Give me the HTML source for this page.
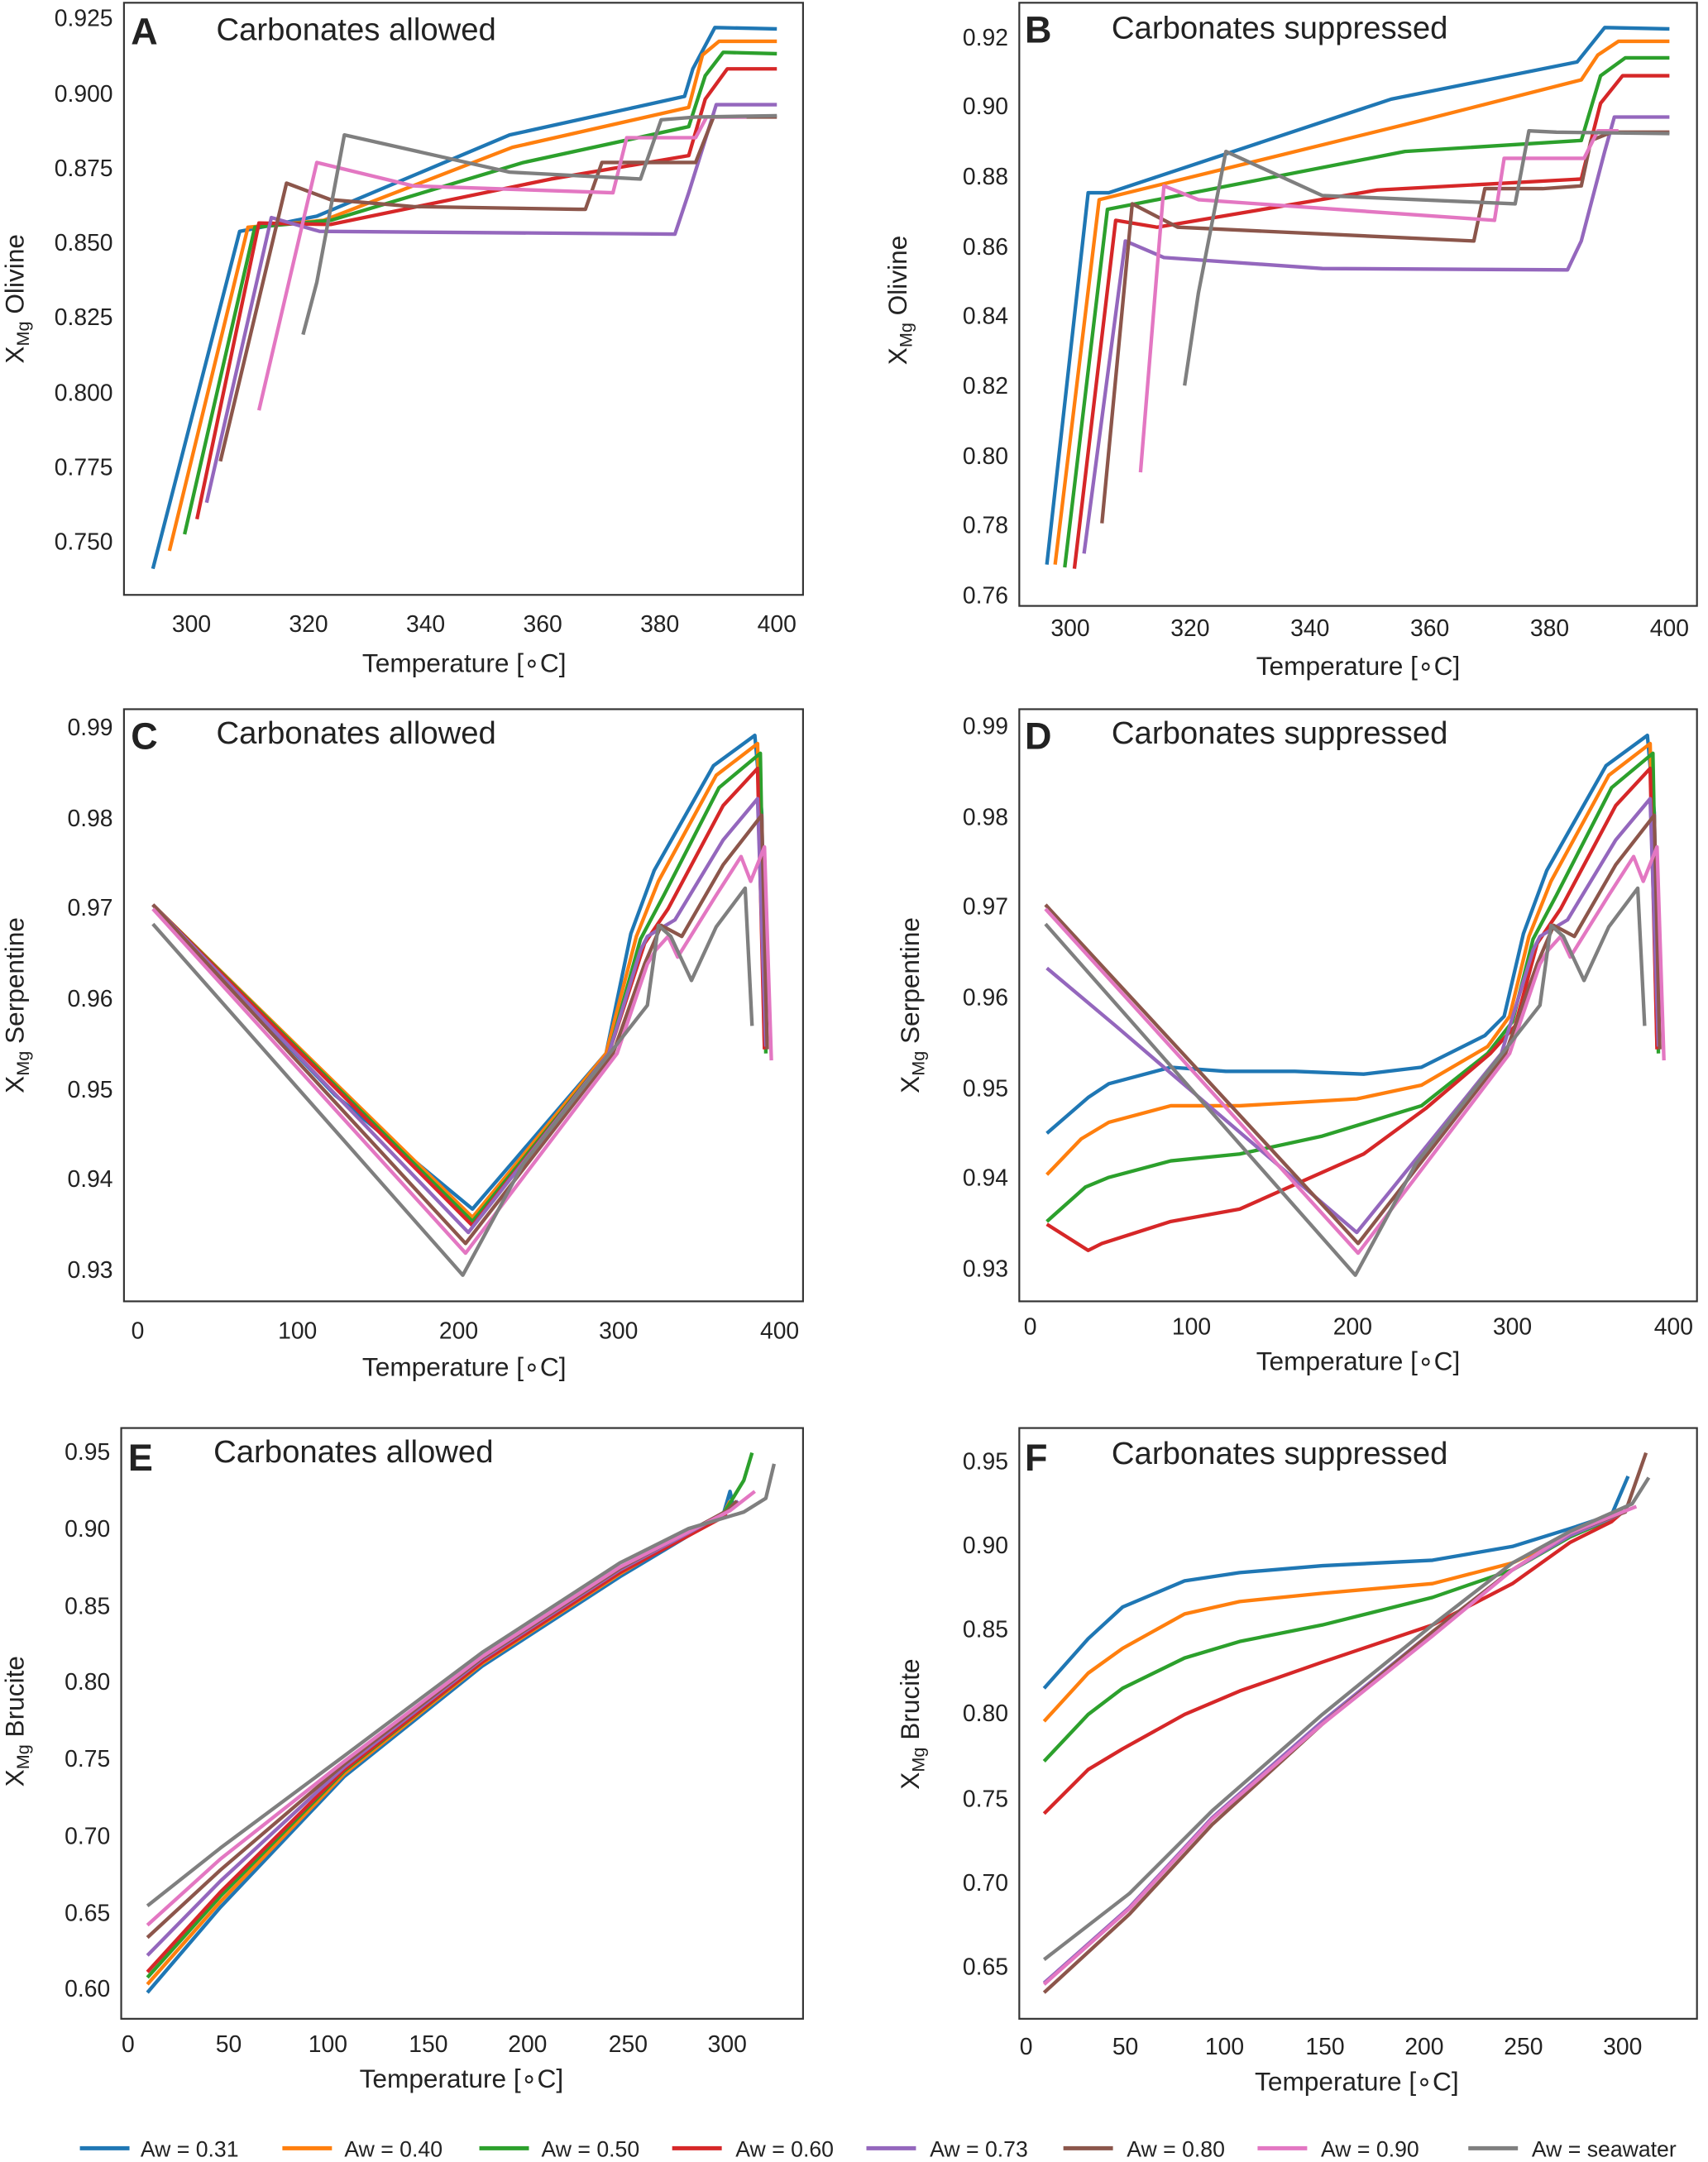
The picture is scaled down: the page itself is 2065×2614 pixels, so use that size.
<!DOCTYPE html>
<html><head><meta charset="utf-8"><style>
html,body{margin:0;padding:0;background:#fff;}
svg{display:block;}
text{font-family:"Liberation Sans",sans-serif;fill:#222;}
.t{font-size:17px;}
.ax{font-size:19px;}
.ti{font-size:23px;}
.lb{font-size:27px;font-weight:bold;}
polyline{fill:none;stroke-width:2.6;stroke-linejoin:round;}
.b{stroke:#1f77b4}.o{stroke:#ff7f0e}.g{stroke:#2ca02c}.r{stroke:#d62728}.p{stroke:#9467bd}.br{stroke:#8c564b}.pk{stroke:#e377c2}.gy{stroke:#7f7f7f}
.box{fill:none;stroke:#333;stroke-width:1.3}
.tk{stroke:#333;stroke-width:1.2}
</style></head><body>
<svg width="2065" height="2614" viewBox="0 0 1240 1570" preserveAspectRatio="none" xmlns="http://www.w3.org/2000/svg">
<rect width="1240" height="1570" fill="#fff"/>

<!-- Panel A -->
<rect class="box" x="90" y="2" width="493" height="430"/>
<g class="t" text-anchor="end">
<text x="82" y="19">0.925</text><text x="82" y="74">0.900</text><text x="82" y="128">0.875</text><text x="82" y="182">0.850</text><text x="82" y="236">0.825</text><text x="82" y="291">0.800</text><text x="82" y="345">0.775</text><text x="82" y="399">0.750</text>
</g>
<g class="t" text-anchor="middle">
<text x="139" y="459">300</text><text x="224" y="459">320</text><text x="309" y="459">340</text><text x="394" y="459">360</text><text x="479" y="459">380</text><text x="564" y="459">400</text>
</g>
<text class="ax" x="337" y="488" text-anchor="middle">Temperature [∘C]</text>
<text class="ax" transform="translate(17,217) rotate(-90)" text-anchor="middle">X<tspan font-size="13" dy="4">Mg</tspan><tspan dy="-4"> Olivine</tspan></text>
<text class="lb" x="95" y="32">A</text><text class="ti" x="157" y="29">Carbonates allowed</text>
<polyline class="b" points="111,413 174,168 195,164 230,157 370,98 497,70 503,50 519,20 564,21"/>
<polyline class="o" points="123,400 180,165 235,160 372,107 500,78 510,40 522,30 564,30"/>
<polyline class="g" points="134,388 185,165 240,160 380,118 500,92 512,55 525,38 564,39"/>
<polyline class="r" points="143,377 188,162 240,163 400,130 500,113 512,72 528,50 564,50"/>
<polyline class="p" points="150,365 197,158 232,168 490,170 500,140 520,76 564,76"/>
<polyline class="br" points="160,335 208,133 240,145 300,150 420,152 425,152 437,118 505,118 518,85 564,85"/>
<polyline class="pk" points="188,298 230,118 300,135 445,140 455,100 505,100 513,85 530,85 542,85"/>
<polyline class="gy" points="220,243 230,205 250,98 370,125 465,130 480,87 505,85 564,84"/>

<!-- Panel B -->
<rect class="box" x="740" y="2" width="492" height="438"/>
<g class="t" text-anchor="end" font-size="19">
<text x="732" y="33" class="t">0.92</text><text x="732" y="83" class="t">0.90</text><text x="732" y="134" class="t">0.88</text><text x="732" y="185" class="t">0.86</text><text x="732" y="235" class="t">0.84</text><text x="732" y="286" class="t">0.82</text><text x="732" y="337" class="t">0.80</text><text x="732" y="387" class="t">0.78</text><text x="732" y="438" class="t">0.76</text>
</g>
<g class="t" text-anchor="middle">
<text x="777" y="462">300</text><text x="864" y="462">320</text><text x="951" y="462">340</text><text x="1038" y="462">360</text><text x="1125" y="462">380</text><text x="1212" y="462">400</text>
</g>
<text class="ax" x="986" y="490" text-anchor="middle">Temperature [∘C]</text>
<text class="ax" transform="translate(658,218) rotate(-90)" text-anchor="middle">X<tspan font-size="13" dy="4">Mg</tspan><tspan dy="-4"> Olivine</tspan></text>
<text class="lb" x="744" y="31">B</text><text class="ti" x="807" y="28">Carbonates suppressed</text>
<polyline class="b" points="760,410 790,140 805,140 1010,72 1145,45 1165,20 1212,21"/>
<polyline class="o" points="766,410 798,145 1030,88 1148,58 1160,40 1175,30 1212,30"/>
<polyline class="g" points="773,412 804,152 1020,110 1148,102 1162,55 1180,42 1212,42"/>
<polyline class="r" points="780,413 810,160 840,165 1000,138 1148,130 1162,75 1178,55 1212,55"/>
<polyline class="p" points="787,402 817,175 845,187 960,195 1138,196 1148,175 1165,110 1172,85 1212,85"/>
<polyline class="br" points="800,380 822,148 855,165 1070,175 1078,137 1120,137 1148,135 1155,102 1170,96 1212,96"/>
<polyline class="pk" points="828,343 845,135 870,145 1085,160 1092,115 1150,115 1160,95 1175,95"/>
<polyline class="gy" points="860,280 870,213 890,110 960,142 1100,148 1110,95 1130,96 1212,97"/>

<!-- Panel C -->
<rect class="box" x="90" y="515" width="493" height="430"/>
<g class="t" text-anchor="end">
<text x="82" y="534">0.99</text><text x="82" y="600">0.98</text><text x="82" y="665">0.97</text><text x="82" y="731">0.96</text><text x="82" y="797">0.95</text><text x="82" y="862">0.94</text><text x="82" y="928">0.93</text>
</g>
<g class="t" text-anchor="middle">
<text x="100" y="972">0</text><text x="216" y="972">100</text><text x="333" y="972">200</text><text x="449" y="972">300</text><text x="566" y="972">400</text>
</g>
<text class="ax" x="337" y="999" text-anchor="middle">Temperature [∘C]</text>
<text class="ax" transform="translate(17,730) rotate(-90)" text-anchor="middle">X<tspan font-size="13" dy="4">Mg</tspan><tspan dy="-4"> Serpentine</tspan></text>
<text class="lb" x="95" y="544">C</text><text class="ti" x="157" y="540">Carbonates allowed</text>
<polyline class="b" points="111,657 243,795 343,878 440,765 458,678 475,632 518,556 548,534 553,590 556,762"/>
<polyline class="o" points="111,657 343,884 440,765 462,680 478,640 520,563 550,540 555,760"/>
<polyline class="g" points="111,657 343,887 442,765 465,682 482,650 522,572 552,547 556,765"/>
<polyline class="r" points="111,657 343,890 442,765 468,685 485,660 525,585 550,558 555,762"/>
<polyline class="p" points="111,657 340,895 442,765 465,690 470,680 490,668 525,610 550,580 556,760"/>
<polyline class="br" points="111,657 338,903 445,765 468,700 480,672 495,680 525,628 553,592 557,762"/>
<polyline class="pk" points="111,660 338,910 448,765 470,700 476,690 485,680 492,695 520,650 538,622 545,640 555,615 560,770"/>
<polyline class="gy" points="111,671 336,926 380,845 470,730 478,672 487,680 502,712 520,673 541,645 546,745"/>

<!-- Panel D -->
<rect class="box" x="740" y="515" width="492" height="430"/>
<g class="t" text-anchor="end">
<text x="732" y="533">0.99</text><text x="732" y="599">0.98</text><text x="732" y="664">0.97</text><text x="732" y="730">0.96</text><text x="732" y="796">0.95</text><text x="732" y="861">0.94</text><text x="732" y="927">0.93</text>
</g>
<g class="t" text-anchor="middle">
<text x="748" y="969">0</text><text x="865" y="969">100</text><text x="982" y="969">200</text><text x="1098" y="969">300</text><text x="1215" y="969">400</text>
</g>
<text class="ax" x="986" y="995" text-anchor="middle">Temperature [∘C]</text>
<text class="ax" transform="translate(667,730) rotate(-90)" text-anchor="middle">X<tspan font-size="13" dy="4">Mg</tspan><tspan dy="-4"> Serpentine</tspan></text>
<text class="lb" x="744" y="544">D</text><text class="ti" x="807" y="540">Carbonates suppressed</text>
<polyline class="b" points="760,823 790,797 805,787 850,775 890,778 940,778 990,780 1032,775 1078,752 1092,738 1106,678 1123,632 1166,556 1196,534 1201,590 1204,762"/>
<polyline class="o" points="760,853 785,827 805,815 850,803 900,803 985,798 1032,788 1080,760 1096,738 1110,680 1126,640 1168,563 1198,540 1203,760"/>
<polyline class="g" points="760,887 788,862 805,855 850,843 900,838 960,825 1032,803 1080,765 1098,742 1113,682 1130,650 1170,572 1200,547 1204,765"/>
<polyline class="r" points="760,889 790,908 800,903 850,887 900,878 990,838 1035,805 1082,765 1100,745 1116,685 1133,660 1173,585 1198,558 1203,762"/>
<polyline class="p" points="760,703 810,745 985,895 1090,765 1113,690 1118,680 1138,668 1173,610 1198,580 1204,760"/>
<polyline class="br" points="759,657 986,903 1093,765 1116,700 1128,672 1143,680 1173,628 1201,592 1205,762"/>
<polyline class="pk" points="759,660 986,910 1096,765 1118,700 1124,690 1133,680 1140,695 1168,650 1186,622 1193,640 1203,615 1208,770"/>
<polyline class="gy" points="759,671 984,926 1028,845 1118,730 1126,672 1135,680 1150,712 1168,673 1189,645 1194,745"/>

<!-- Panel E -->
<rect class="box" x="88" y="1037" width="495" height="429"/>
<g class="t" text-anchor="end">
<text x="80" y="1060">0.95</text><text x="80" y="1116">0.90</text><text x="80" y="1172">0.85</text><text x="80" y="1227">0.80</text><text x="80" y="1283">0.75</text><text x="80" y="1339">0.70</text><text x="80" y="1395">0.65</text><text x="80" y="1450">0.60</text>
</g>
<g class="t" text-anchor="middle">
<text x="93" y="1490">0</text><text x="166" y="1490">50</text><text x="238" y="1490">100</text><text x="311" y="1490">150</text><text x="383" y="1490">200</text><text x="456" y="1490">250</text><text x="528" y="1490">300</text>
</g>
<text class="ax" x="335" y="1516" text-anchor="middle">Temperature [∘C]</text>
<text class="ax" transform="translate(17,1250) rotate(-90)" text-anchor="middle">X<tspan font-size="13" dy="4">Mg</tspan><tspan dy="-4"> Brucite</tspan></text>
<text class="lb" x="93" y="1068">E</text><text class="ti" x="155" y="1062">Carbonates allowed</text>
<polyline class="b" points="107,1447 160,1385 250,1290 350,1210 450,1145 525,1100 530,1083 532,1092"/>
<polyline class="o" points="107,1441 160,1381 250,1288 350,1208 450,1143 526,1098 530,1090"/>
<polyline class="g" points="107,1436 160,1377 250,1286 350,1207 450,1142 526,1098 540,1075 546,1055"/>
<polyline class="r" points="107,1432 160,1374 250,1285 350,1207 450,1142 528,1100"/>
<polyline class="p" points="107,1420 160,1366 250,1283 350,1205 450,1140 528,1098 536,1090"/>
<polyline class="br" points="107,1407 160,1358 250,1281 350,1204 450,1139 528,1097 535,1090"/>
<polyline class="pk" points="107,1398 160,1350 250,1279 350,1203 450,1138 530,1097 548,1083"/>
<polyline class="gy" points="107,1384 160,1342 250,1275 350,1200 450,1135 500,1110 540,1098 556,1088 562,1063"/>

<!-- Panel F -->
<rect class="box" x="740" y="1037" width="492" height="429"/>
<g class="t" text-anchor="end">
<text x="732" y="1067">0.95</text><text x="732" y="1128">0.90</text><text x="732" y="1189">0.85</text><text x="732" y="1250">0.80</text><text x="732" y="1312">0.75</text><text x="732" y="1373">0.70</text><text x="732" y="1434">0.65</text>
</g>
<g class="t" text-anchor="middle">
<text x="745" y="1492">0</text><text x="817" y="1492">50</text><text x="889" y="1492">100</text><text x="962" y="1492">150</text><text x="1034" y="1492">200</text><text x="1106" y="1492">250</text><text x="1178" y="1492">300</text>
</g>
<text class="ax" x="985" y="1518" text-anchor="middle">Temperature [∘C]</text>
<text class="ax" transform="translate(667,1252) rotate(-90)" text-anchor="middle">X<tspan font-size="13" dy="4">Mg</tspan><tspan dy="-4"> Brucite</tspan></text>
<text class="lb" x="744" y="1068">F</text><text class="ti" x="807" y="1063">Carbonates suppressed</text>
<polyline class="b" points="758,1226 790,1190 815,1167 860,1148 900,1142 960,1137 1040,1133 1098,1123 1140,1110 1170,1100 1182,1072"/>
<polyline class="o" points="758,1250 790,1215 815,1197 860,1172 900,1163 960,1157 1040,1150 1098,1135 1140,1115 1170,1102 1178,1098"/>
<polyline class="g" points="758,1279 790,1245 815,1226 860,1204 900,1192 960,1180 1040,1160 1098,1140 1140,1116 1170,1103 1178,1096"/>
<polyline class="r" points="758,1317 790,1285 815,1270 860,1245 900,1228 960,1207 1040,1180 1098,1150 1140,1120 1170,1105 1178,1098"/>
<polyline class="p" points="758,1440 820,1385 880,1320 960,1250 1040,1185 1098,1140 1140,1115 1175,1100"/>
<polyline class="br" points="758,1447 820,1390 880,1325 960,1252 1040,1185 1098,1140 1140,1113 1180,1098 1195,1055"/>
<polyline class="pk" points="758,1441 820,1386 880,1321 960,1252 1040,1188 1098,1140 1140,1113 1188,1094"/>
<polyline class="gy" points="758,1423 820,1375 880,1315 960,1245 1040,1180 1098,1135 1140,1112 1185,1092 1197,1073"/>

<!-- Legend -->
<g font-size="16">
<line x1="58" y1="1560" x2="94" y2="1560" stroke="#1f77b4" stroke-width="3"/><text x="102" y="1566" font-size="16">Aw = 0.31</text>
<line x1="205" y1="1560" x2="241" y2="1560" stroke="#ff7f0e" stroke-width="3"/><text x="250" y="1566" font-size="16">Aw = 0.40</text>
<line x1="348" y1="1560" x2="384" y2="1560" stroke="#2ca02c" stroke-width="3"/><text x="393" y="1566" font-size="16">Aw = 0.50</text>
<line x1="488" y1="1560" x2="524" y2="1560" stroke="#d62728" stroke-width="3"/><text x="534" y="1566" font-size="16">Aw = 0.60</text>
<line x1="629" y1="1560" x2="665" y2="1560" stroke="#9467bd" stroke-width="3"/><text x="675" y="1566" font-size="16">Aw = 0.73</text>
<line x1="772" y1="1560" x2="808" y2="1560" stroke="#8c564b" stroke-width="3"/><text x="818" y="1566" font-size="16">Aw = 0.80</text>
<line x1="913" y1="1560" x2="949" y2="1560" stroke="#e377c2" stroke-width="3"/><text x="959" y="1566" font-size="16">Aw = 0.90</text>
<line x1="1066" y1="1560" x2="1102" y2="1560" stroke="#7f7f7f" stroke-width="3"/><text x="1112" y="1566" font-size="16">Aw = seawater</text>
</g>
</svg>
</body></html>
